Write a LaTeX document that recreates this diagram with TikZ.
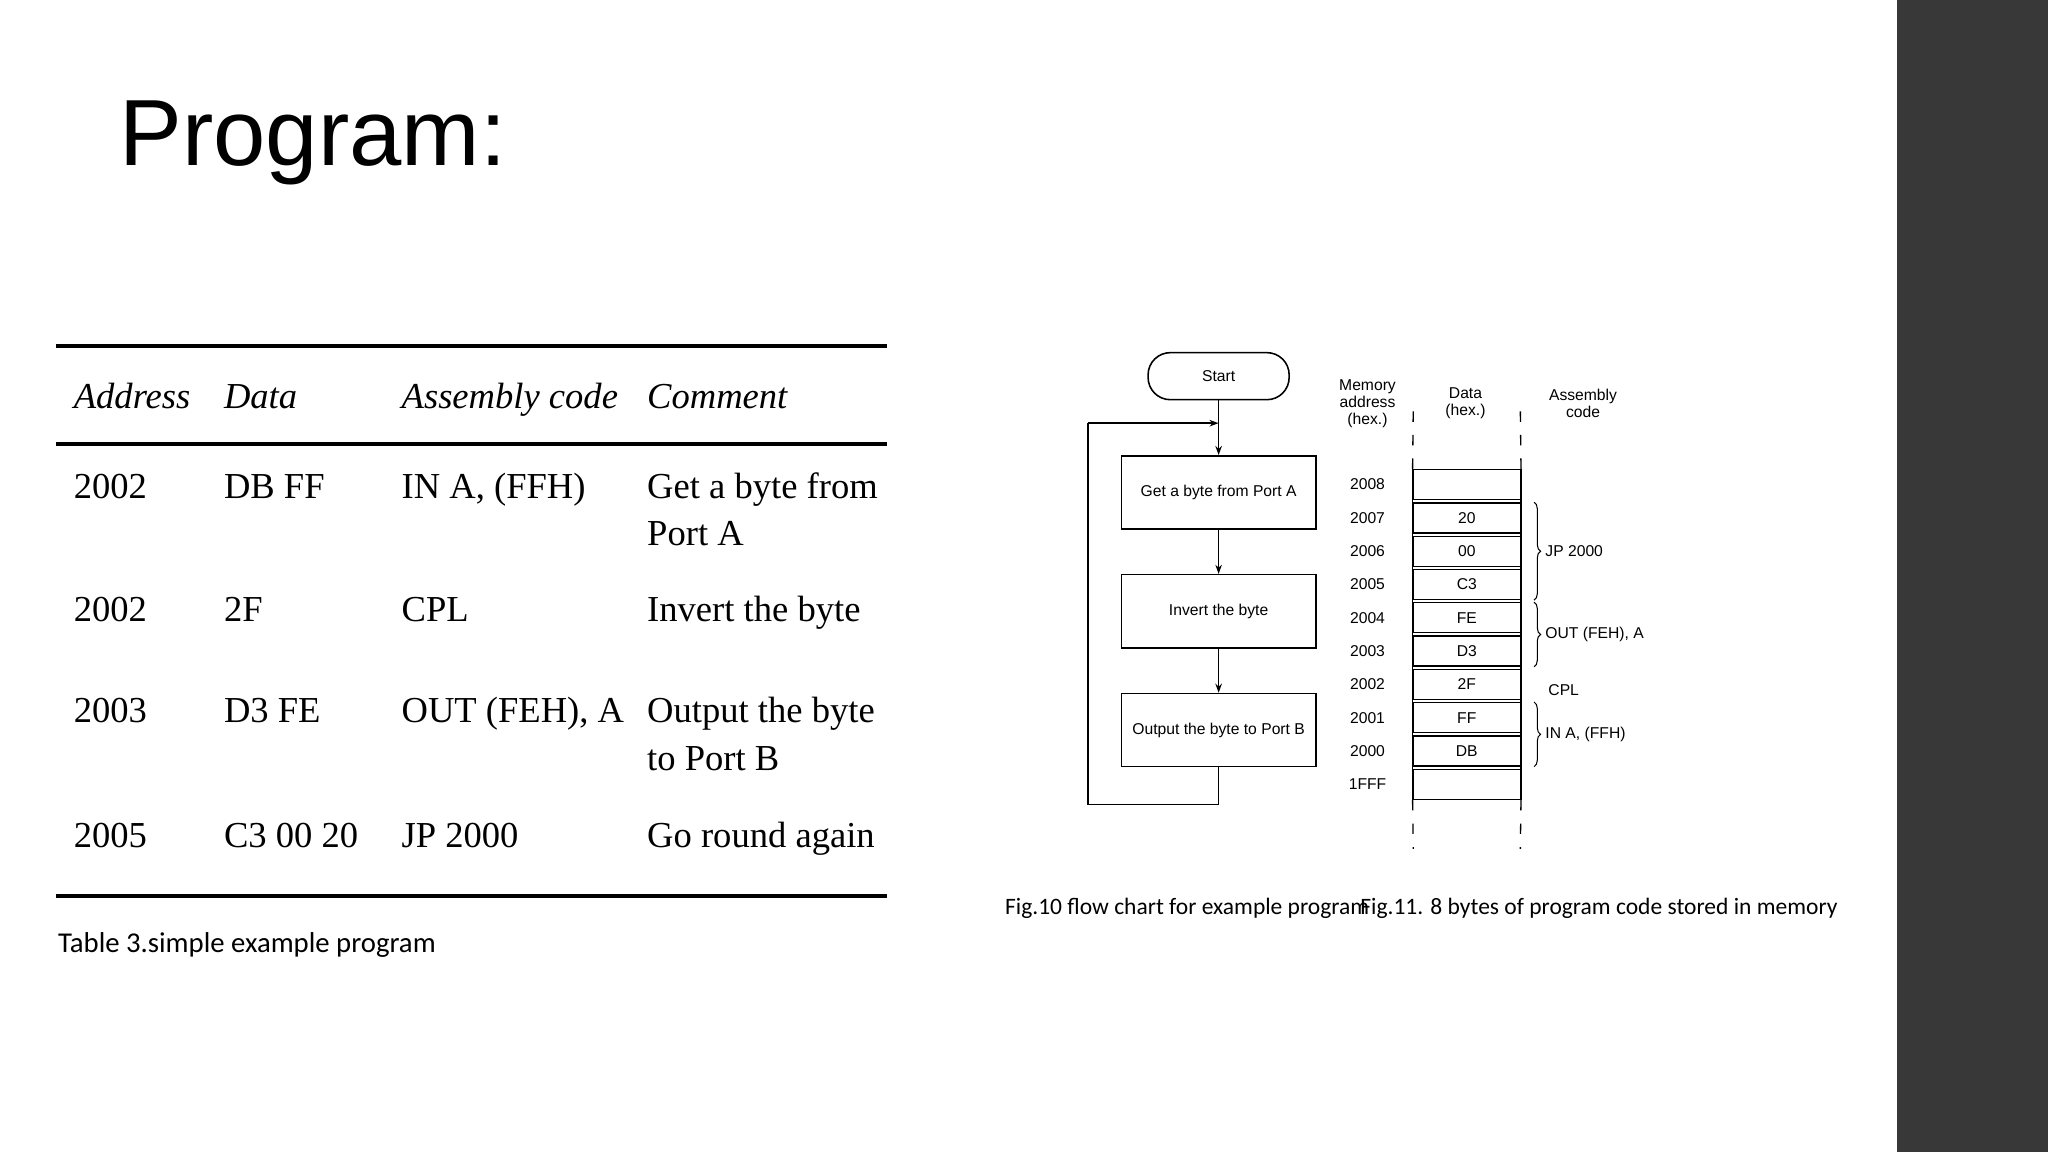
\documentclass[tikz,border=0pt]{standalone}
\usepackage{fontspec}
\setmainfont{Liberation Serif}
\setsansfont{Liberation Sans}
\newfontfamily\capf{Carlito}
\usetikzlibrary{decorations.pathreplacing,arrows.meta}
\begin{document}
\begin{tikzpicture}[x=1pt,y=-1pt,
  tb/.style={anchor=base west,font=\fontsize{28}{30}\selectfont},
  th/.style={anchor=base west,font=\fontsize{28}{30}\selectfont\itshape},
  fbox/.style={draw,line width=1.2pt,minimum width=149pt,minimum height=56pt,font=\sffamily\fontsize{12}{14}\selectfont},
  cell/.style={draw,line width=1pt,minimum width=82pt,minimum height=23pt,font=\sffamily\fontsize{12}{14}\selectfont},
  sm/.style={font=\sffamily\fontsize{12}{13}\selectfont,align=center},
  arr/.style={-{Stealth[length=7pt,width=5pt]},line width=1.1pt},
  br/.style={decorate,decoration={brace,amplitude=5pt},line width=0.8pt},
  captxt/.style={anchor=base west,font=\capf\fontsize{18}{20}\selectfont}]
\fill[white] (0,0) rectangle (1568,882);
\fill[black!78] (1452,0) rectangle (1568,882);
\node[anchor=base west,font=\sffamily\fontsize{72}{76}\selectfont] (title) at (88,127) {Program:};
% table
\draw[line width=3pt] (43,265) -- (679,265);
\draw[line width=2.5pt] (43,340) -- (679,340);
\draw[line width=3pt] (43,686) -- (679,686);
\node[th] (h1) at (53,313) {Address};
\node[th] (h2) at (168,313) {Data};
\node[th] (h3) at (304,313) {Assembly code};
\node[th] (h4) at (492,313) {Comment};
\node[tb] (a1) at (53,382) {2002}; \node[tb] (d1) at (168,382) {DB FF}; \node[tb] (c1) at (304,382) {IN A, (FFH)}; \node[tb] (m1) at (492,382) {Get a byte from};
\node[tb] (m1b) at (492,418) {Port A};
\node[tb] (a2) at (53,476) {2002}; \node[tb] (d2) at (168,476) {2F}; \node[tb] (c2) at (304,476) {CPL}; \node[tb] (m2) at (492,476) {Invert the byte};
\node[tb] (a3) at (53,553) {2003}; \node[tb] (d3) at (168,553) {D3 FE}; \node[tb] (c3) at (304,553) {OUT (FEH), A}; \node[tb] (m3) at (492,553) {Output the byte};
\node[tb] (m3b) at (492,590) {to Port B};
\node[tb] (a4) at (53,649) {2005}; \node[tb] (d4) at (168,649) {C3 00 20}; \node[tb] (c4) at (304,649) {JP 2000}; \node[tb] (m4) at (492,649) {Go round again};
\node[captxt,font=\capf\fontsize{22}{24}\selectfont] (t3) at (41,729) {Table 3.simple example program};
% flowchart
\node[draw,line width=1.2pt,rounded corners=17pt,minimum width=108pt,minimum height=36pt,font=\sffamily\fontsize{12}{14}\selectfont] (start) at (933,288) {Start};
\node[fbox] (b1) at (933,377) {Get a byte from Port A};
\node[fbox] (b2) at (933,468) {Invert the byte};
\node[fbox] (b3) at (933,559) {Output the byte to Port B};
\coordinate (j) at (933,324);
\coordinate (l1) at (933,616); \coordinate (l2) at (833,616); \coordinate (l3) at (833,324);
\draw[line width=1.1pt] (start) -- (j);
\draw[arr] (j) -- (b1);
\draw[arr] (b1) -- (b2);
\draw[arr] (b2) -- (b3);
\draw[line width=1.1pt] (b3.south) -- (l1) -- (l2) -- (l3);
\draw[arr] (l3) -- (j);
% memory
\node[sm] (mh1) at (1047,309) {Memory\\address\\(hex.)};
\node[sm] (mh2) at (1122,309) {Data\\(hex.)};
\node[sm] (mh3) at (1212,309) {Assembly\\code};
\foreach \i/\ad/\dv in {0/2008/,1/2007/20,2/2006/00,3/2005/C3,4/2004/FE,5/2003/D3,6/2002/2F,7/2001/FF,8/2000/DB,9/1FFF/} {
  \node[cell] (c\i) at (1123,{371+25.5*\i}) {\dv};
  \node[sm] (ad\i) at (1047,{371+25.5*\i}) {\ad};
}
\draw[line width=1pt] (c0.north west) -- (c9.south west);
\draw[line width=1pt] (c0.north east) -- (c9.south east);
\draw[line width=1pt,dash pattern=on 8pt off 10pt] (1082,315) -- (c0.north west);
\draw[line width=1pt,dash pattern=on 8pt off 10pt] (1164,315) -- (c0.north east);
\draw[line width=1pt,dash pattern=on 8pt off 10pt] (c9.south west) -- (1082,650);
\draw[line width=1pt,dash pattern=on 8pt off 10pt] (c9.south east) -- (1164,650);
\draw[br] ([xshift=10pt]c1.north east) -- ([xshift=10pt]c3.south east) node[midway,right=5pt,sm] (l1t) {JP 2000};
\draw[br] ([xshift=10pt]c4.north east) -- ([xshift=10pt]c5.south east) node[midway,right=5pt,sm] (l2t) {OUT (FEH), A};
\node[sm,anchor=west] (cpl) at (1182,528) {CPL};
\draw[br] ([xshift=10pt]c7.north east) -- ([xshift=10pt]c8.south east) node[midway,right=5pt,sm] (l3t) {IN A, (FFH)};
\node[captxt] (f10) at (766,700) {Fig.10 flow chart for example program};
\node[captxt] (f11) at (1038,700) {Fig.11. 8 bytes of program code stored in memory};
\end{tikzpicture}
\end{document}
